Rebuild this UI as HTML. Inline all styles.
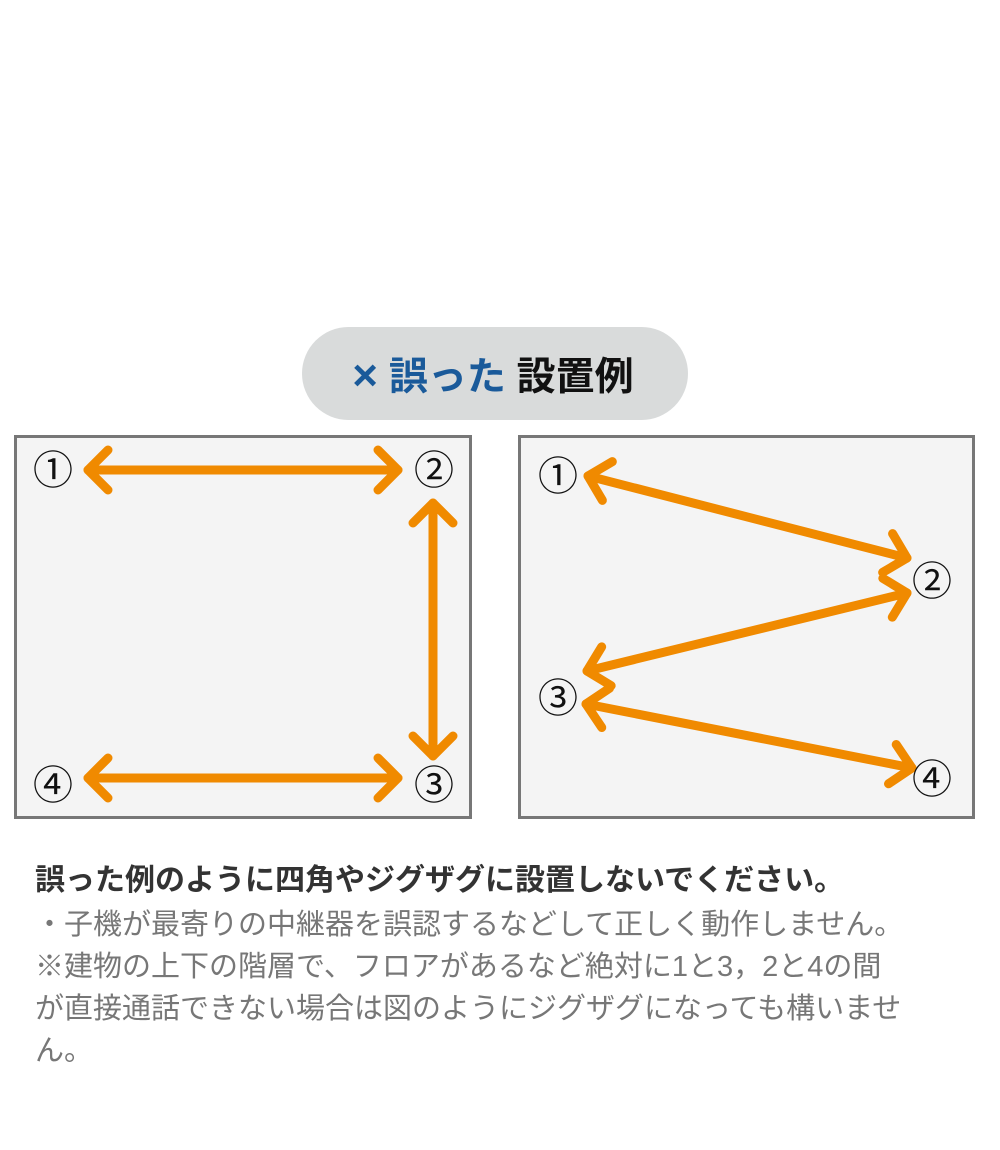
<!DOCTYPE html>
<html><head><meta charset="utf-8"><style>
html,body{margin:0;padding:0;background:#fff;width:1000px;height:1150px;overflow:hidden}
.t{position:absolute;left:35px;font-family:"Liberation Sans","Noto Sans CJK JP",sans-serif;white-space:nowrap}
</style></head><body>
<svg width="1000" height="1150" style="position:absolute;left:0;top:0" font-family="Liberation Sans, Noto Sans CJK JP, sans-serif">
<defs>
<marker id="h" markerUnits="userSpaceOnUse" markerWidth="60" markerHeight="60" refX="30" refY="30" orient="auto-start-reverse" viewBox="0 0 60 60">
<path d="M10,10 L30,30 L10,50" fill="none" stroke="#f08a00" stroke-width="9" stroke-linecap="round" stroke-linejoin="round"/>
</marker>
</defs>
<rect x="302" y="327" width="386" height="93" rx="46.5" fill="#d9dbdb"/>
<text x="493" y="390" text-anchor="middle" font-size="39" font-weight="bold"><tspan fill="#1a5a9a" font-size="44">×</tspan><tspan fill="#1a5a9a"> 誤った</tspan><tspan fill="#111"> 設置例</tspan></text>
<rect x="15.5" y="436.5" width="455" height="381" fill="#f4f4f4" stroke="#777" stroke-width="3"/>
<rect x="519.5" y="436.5" width="454" height="381" fill="#f4f4f4" stroke="#777" stroke-width="3"/>
<g stroke="#f08a00" stroke-width="9" stroke-linecap="round" fill="none">
<line x1="88" y1="470" x2="398" y2="470" marker-start="url(#h)" marker-end="url(#h)"/>
<line x1="433" y1="503" x2="433" y2="756" marker-start="url(#h)" marker-end="url(#h)"/>
<line x1="88" y1="778" x2="398" y2="778" marker-start="url(#h)" marker-end="url(#h)"/>
<line x1="588" y1="476" x2="907" y2="558" marker-start="url(#h)" marker-end="url(#h)"/>
<line x1="907" y1="593" x2="587" y2="671" marker-start="url(#h)" marker-end="url(#h)"/>
<line x1="586" y1="704" x2="912" y2="768" marker-start="url(#h)" marker-end="url(#h)"/>
</g>
<g font-size="40" fill="#111" text-anchor="middle">
<text x="53" y="484">①</text><text x="434" y="484">②</text>
<text x="53" y="799">④</text><text x="434" y="799">③</text>
<text x="558" y="490">①</text><text x="932" y="595">②</text>
<text x="558" y="712">③</text><text x="932" y="793">④</text>
</g>
</svg>
<div class="t" style="top:855px;font-size:30px;font-weight:bold;color:#333">誤った例のように四角やジグザグに設置しないでください。</div>
<div class="t" style="top:904px;font-size:29px;color:#777;line-height:42px">・子機が最寄りの中継器を誤認するなどして正しく動作しません。<br>※建物の上下の階層で、フロアがあるなど絶対に1と3，2と4の間<br>が直接通話できない場合は図のようにジグザグになっても構いませ<br>ん。</div>
</body></html>
